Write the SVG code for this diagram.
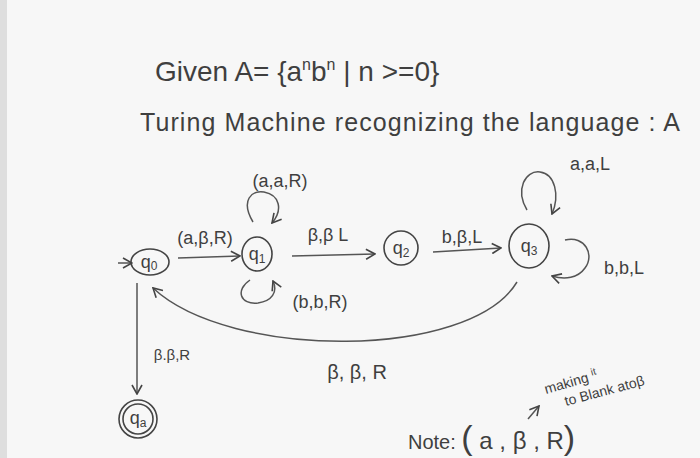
<svg xmlns="http://www.w3.org/2000/svg" width="700" height="458" viewBox="0 0 700 458">
<style>
.ink{fill:#3f3f3f;font-family:"Liberation Sans","DejaVu Sans",sans-serif}
.lbl{font-size:18px}
.node{fill:none;stroke:#444;stroke-width:1.6}
.edge{fill:none;stroke:#555;stroke-width:1.5}
.q{font-size:18px;text-anchor:middle}
</style>
<defs>
<marker id="ah" viewBox="0 0 12 12" refX="11" refY="6" markerWidth="12" markerHeight="12" markerUnits="userSpaceOnUse" orient="auto">
<polyline points="2,1 11,6 2,11" fill="none" stroke="#444" stroke-width="1.6"/>
</marker>
</defs>
<rect width="700" height="458" fill="#f7f7f7"/>
<rect x="0" y="0" width="7" height="458" fill="#dedede"/>

<g id="title">
<text class="ink" x="155" y="81" font-size="28">Given A= {a<tspan font-size="16" dy="-11">n</tspan><tspan dy="11">b</tspan><tspan font-size="16" dy="-11">n</tspan><tspan dy="11"> | n &gt;=0}</tspan></text>
<text class="ink" x="140" y="131" font-size="25" textLength="540" lengthAdjust="spacing">Turing Machine recognizing the language : A</text>
</g>

<g id="connectors">
<path class="edge" d="M118,263 L132,263" marker-end="url(#ah)"/>
<path class="edge" d="M178,258 L240,256" marker-end="url(#ah)"/>
<path class="edge" d="M292,256 L375,254" marker-end="url(#ah)"/>
<path class="edge" d="M433,252 L501,248" marker-end="url(#ah)"/>
<path class="edge" d="M137,283 L137,394" marker-end="url(#ah)"/>
<path class="edge" d="M253,222 C240,200 252,190 264,192 C280,195 283,210 272,223" marker-end="url(#ah)"/>
<path class="edge" d="M250,280 C235,290 240,305 258,303 C272,301 278,292 273,281" marker-end="url(#ah)"/>
<path class="edge" d="M527,210 C515,190 525,170 540,172 C555,174 560,195 552,214" marker-end="url(#ah)"/>
<path class="edge" d="M565,240 C585,235 595,255 585,268 C578,278 565,280 552,276" marker-end="url(#ah)"/>
<path class="edge" d="M517,282 C470,360 230,360 153,288" marker-end="url(#ah)"/>
<path class="edge" d="M528,419 L539,406" marker-end="url(#ah)"/>
</g>

<g id="q0">
<ellipse class="node" cx="150" cy="262" rx="19" ry="13"/>
<text class="ink q" x="149" y="268">q<tspan font-size="12" dy="2">0</tspan></text>
</g>
<g id="q1">
<ellipse class="node" cx="257" cy="254" rx="15" ry="17"/>
<text class="ink q" x="257" y="260">q<tspan font-size="12" dy="3">1</tspan></text>
</g>
<g id="q2">
<ellipse class="node" cx="401" cy="248" rx="17" ry="17"/>
<text class="ink q" x="401" y="254">q<tspan font-size="12" dy="3">2</tspan></text>
</g>
<g id="q3">
<ellipse class="node" cx="529" cy="246" rx="20" ry="22"/>
<text class="ink q" x="529" y="252">q<tspan font-size="12" dy="3">3</tspan></text>
</g>
<g id="qa">
<circle class="node" cx="138" cy="419" r="19"/>
<circle class="node" cx="138" cy="419" r="15"/>
<text class="ink q" x="138" y="424">q<tspan font-size="12" dy="3">a</tspan></text>
</g>

<g id="labels">
<text class="ink lbl" x="280" y="187" text-anchor="middle">(a,a,R)</text>
<text class="ink lbl" x="205" y="244" text-anchor="middle">(a,β,R)</text>
<text class="ink lbl" x="328" y="241" text-anchor="middle">β,β L</text>
<text class="ink lbl" x="462" y="243" text-anchor="middle">b,β,L</text>
<text class="ink lbl" x="590" y="170" text-anchor="middle">a,a,L</text>
<text class="ink lbl" x="624" y="274" text-anchor="middle">b,b,L</text>
<text class="ink lbl" x="320" y="308" text-anchor="middle">(b,b,R)</text>
<text class="ink" x="172" y="360" font-size="15" text-anchor="middle">β.β,R</text>
<text class="ink" x="357" y="379" font-size="20" text-anchor="middle">β, β, R</text>
</g>

<g id="note">
<text class="ink" x="408" y="449" font-size="20">Note: <tspan font-size="34">(</tspan><tspan font-size="24"> a , β , R</tspan><tspan font-size="34">)</tspan></text>
<text class="ink" font-size="14" transform="translate(546,394) rotate(-16)">making <tspan font-size="10" dy="-5">it</tspan></text>
<text class="ink" font-size="14" transform="translate(566,406) rotate(-15)">to Blank atoβ</text>
</g>
</svg>
